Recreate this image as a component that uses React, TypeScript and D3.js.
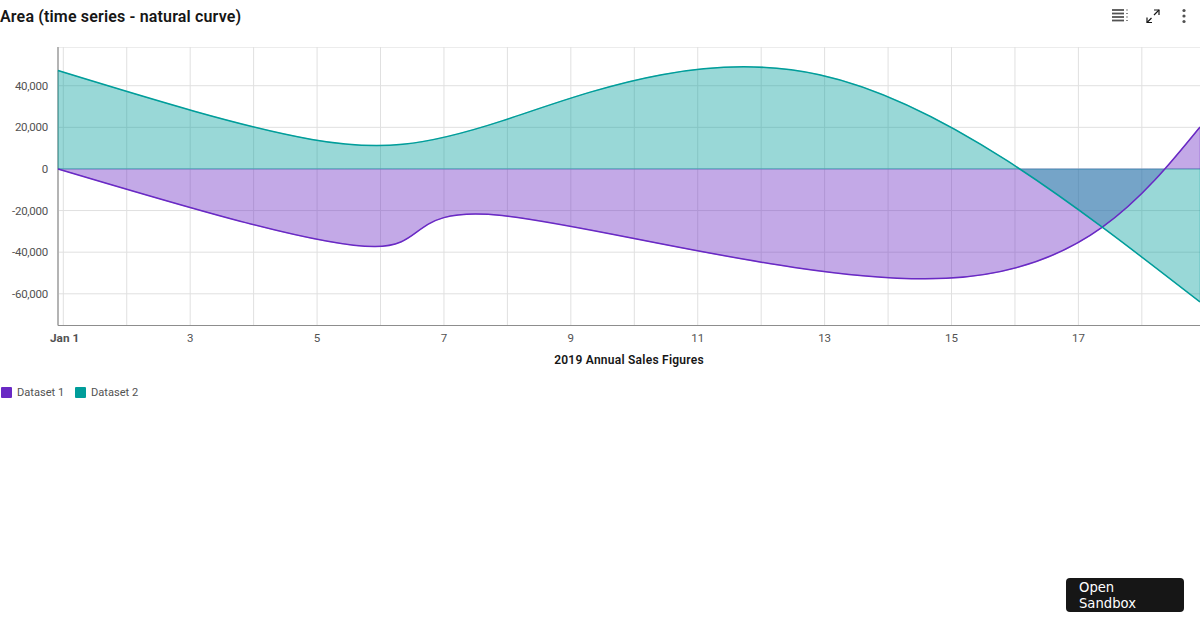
import React from "react";
import { scaleLinear, scaleUtc, area, line, curveNatural, utcDay } from "d3";

// the reference plots at local time, so the data sits 2h ahead of the day ticks
const dates1 = ["2018-12-31T22:00Z", "2019-01-05T22:00Z", "2019-01-07T22:00Z", "2019-01-14T22:00Z", "2019-01-18T22:00Z"];
const values1 = [0, -37312, -22392, -52576, 20135];
const dates2 = ["2018-12-31T22:00Z", "2019-01-04T22:00Z", "2019-01-07T22:00Z", "2019-01-12T22:00Z", "2019-01-18T22:00Z"];
const values2 = [47263, 14178, 23094, 45281, -63954];
const seriesNames = ["Dataset 1", "Dataset 2"];
const seriesColors = ["#6929c4", "#009d9a"];
const yTicks = [40000, 20000, 0, -20000, -40000, -60000];
const yDomain = [-75000, 58600];

const FONT = "Roboto, 'Noto Sans', sans-serif";
const left = 58;
const right = 1200;
const top = 47;
const bottom = 325;

const x = scaleUtc()
  .domain([new Date(dates1[0]), new Date(dates1[4])])
  .range([left, right]);
const y = scaleLinear().domain(yDomain).range([bottom, top]);

const dayTicks = utcDay.range(new Date("2019-01-01T00:00Z"), new Date("2019-01-19T00:00Z"));

type Pt = { d: Date; v: number };
const zip = (ds: string[], vs: number[]): Pt[] => ds.map((d, i) => ({ d: new Date(d), v: vs[i] }));
const series = [zip(dates1, values1), zip(dates2, values2)];

const areaGen = area<Pt>()
  .x((p) => x(p.d))
  .y0(y(0))
  .y1((p) => y(p.v))
  .curve(curveNatural);
const lineGen = line<Pt>()
  .x((p) => x(p.d))
  .y((p) => y(p.v))
  .curve(curveNatural);

export default function App() {
  return (
    <svg width={1200} height={630} style={{ position: "fixed", left: 0, top: 0, background: "#fff" }} fontFamily={FONT}>
      <text x={0} y={22} fontSize={16} fontWeight={600} letterSpacing={0.16} fill="#161616">
        Area (time series - natural curve)
      </text>

      {/* toolbar icons */}
      <g stroke="#525252" strokeWidth={1.8}>
        {[10, 13.5, 17, 20.5].map((v) => (
          <g key={v}>
            <line x1={1112} x2={1124} y1={v} y2={v} />
            <line x1={1126} x2={1128} y1={v} y2={v} strokeWidth={1.2} strokeOpacity={0.7} />
          </g>
        ))}
      </g>
      <g stroke="#161616" strokeWidth={1.2} fill="none">
        <path d="M1147 22.5l4.5-4.5M1154 15l5-5" />
        <path d="M1154 10h5v5M1147 17.5v5h5" />
      </g>
      <g fill="#525252">
        {[10.5, 16, 21.5].map((v) => (
          <circle key={v} cx={1184} cy={v} r={1.6} />
        ))}
      </g>

      {/* grid */}
      <g stroke="#e0e0e0" strokeWidth={1}>
        <line x1={left} x2={right} y1={top + 0.5} y2={top + 0.5} strokeOpacity={0.6} />
        {yTicks.map((t) => (
          <line key={t} x1={left} x2={right} y1={y(t)} y2={y(t)} />
        ))}
        {dayTicks.map((t) => (
          <line key={+t} x1={x(t)} x2={x(t)} y1={top} y2={bottom} />
        ))}
      </g>

      {/* left axis sits under the areas */}
      <line x1={left} x2={left} y1={top} y2={bottom + 0.5} stroke="#b4b4b4" strokeWidth={2} />

      {/* areas */}
      {series.map((s, i) => (
        <path key={i} d={areaGen(s) ?? ""} fill={seriesColors[i]} fillOpacity={0.4} stroke={seriesColors[i]} strokeOpacity={0.35} strokeWidth={1} />
      ))}
      {series.map((s, i) => (
        <path key={i} d={lineGen(s) ?? ""} fill="none" stroke={seriesColors[i]} strokeWidth={1.5} />
      ))}

      {/* axes */}
      <line x1={left} x2={right} y1={bottom + 0.5} y2={bottom + 0.5} stroke="#8d8d8d" strokeWidth={1} />
      {yTicks.map((t) => (
        <text key={t} x={48} y={y(t) + 4} fontSize={11.5} letterSpacing={-0.25} textAnchor="end" fill="#525252">
          {t.toLocaleString("en-US")}
        </text>
      ))}
      {dayTicks
        .filter((t) => t.getUTCDate() % 2 === 1)
        .map((t) => {
          const day = t.getUTCDate();
          return (
            <text
              key={day}
              x={day === 1 ? 50 : x(t)}
              y={342}
              fontSize={day === 1 ? 11.8 : 11.5}
              fontWeight={day === 1 ? 700 : 400}
              textAnchor={day === 1 ? "start" : "middle"}
              fill="#525252"
            >
              {day === 1 ? "Jan 1" : day}
            </text>
          );
        })}
      <text x={629} y={364} fontSize={12} fontWeight={600} letterSpacing={0.25} textAnchor="middle" fill="#161616">
        2019 Annual Sales Figures
      </text>

      {/* legend */}
      {seriesNames.map((name, i) => (
        <g key={name} transform={`translate(${i === 0 ? 1 : 75},387)`}>
          <rect width={11} height={11} rx={1} fill={seriesColors[i]} />
          <text x={16} y={9} fontSize={11.1} fill="#525252">
            {name}
          </text>
        </g>
      ))}

      {/* sandbox button */}
      <rect x={1066} y={578} width={118} height={34} rx={4} fill="#161616" />
      <g fontFamily="'DejaVu Sans', sans-serif" fontSize={13.2} fill="#fff">
        <text x={1079} y={592}>Open</text>
        <text x={1079} y={608}>Sandbox</text>
      </g>
    </svg>
  );
}
